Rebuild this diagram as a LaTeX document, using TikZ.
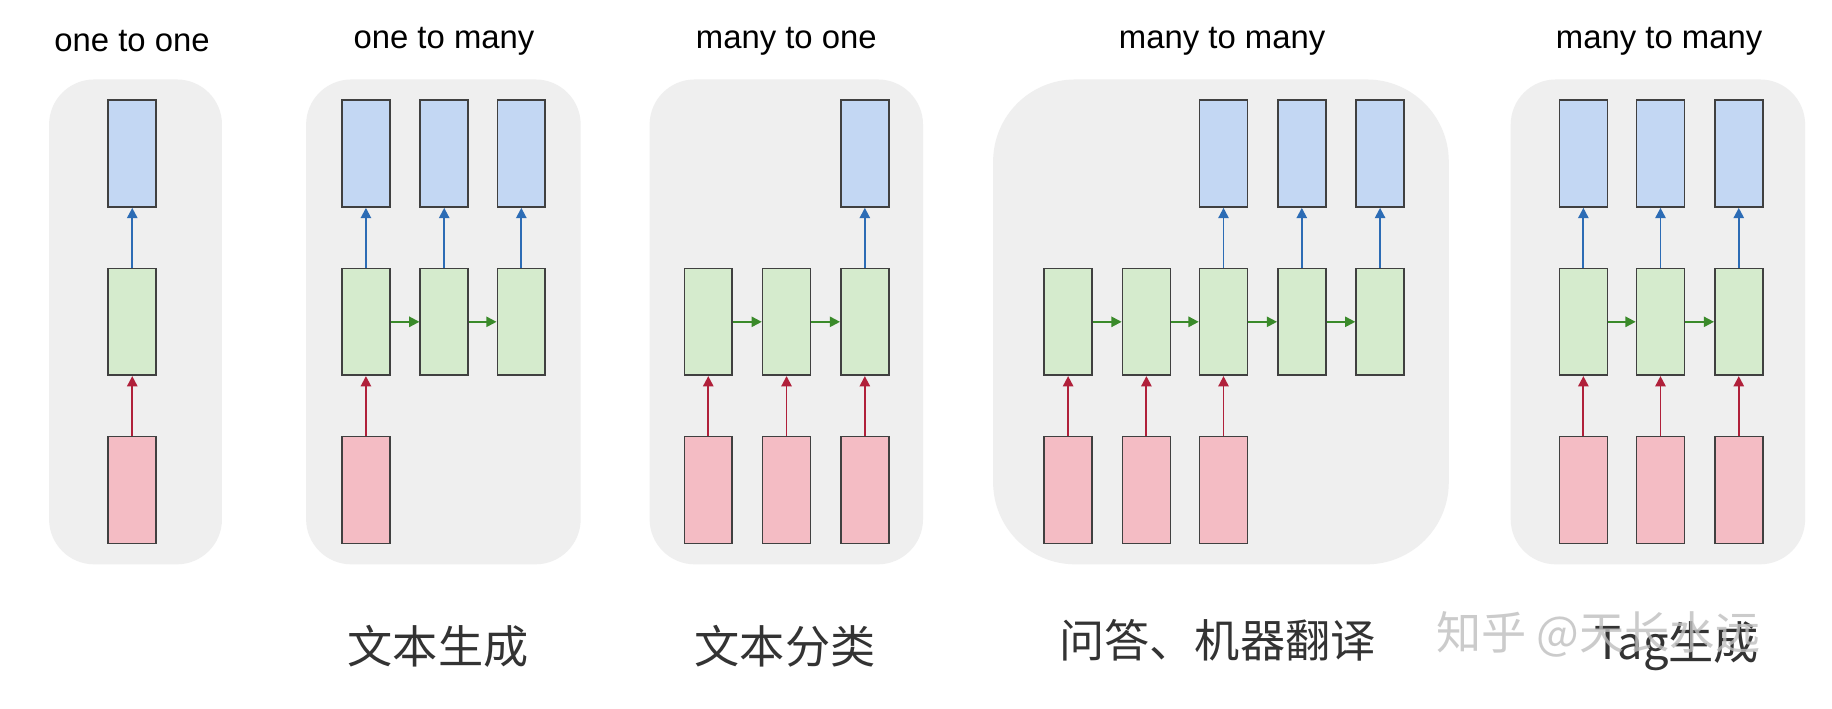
\documentclass[tikz,border=0pt]{standalone}
\usepackage{fontspec}
\setmainfont{Liberation Sans}
\newfontfamily\cjk{Noto Sans CJK SC}
\usetikzlibrary{arrows.meta}
\definecolor{panelc}{HTML}{EFEFEF}
\definecolor{bluef}{HTML}{C3D7F3}
\definecolor{greenf}{HTML}{D5EBCD}
\definecolor{pinkf}{HTML}{F4BCC4}
\definecolor{bluea}{HTML}{2C6CB5}
\definecolor{greena}{HTML}{3A8A2A}
\definecolor{reda}{HTML}{B0203A}
\tikzset{
  panel/.style={fill=panelc,draw=none,rounded corners=22pt},
  cell/.style={draw=black!75,line width=0.8pt,minimum width=0.82cm,minimum height=1.83cm,inner sep=0pt,anchor=north west},
  outc/.style={cell,fill=bluef},
  hidc/.style={cell,fill=greenf},
  inc/.style={cell,fill=pinkf},
  ttl/.style={font=\fontsize{16}{18}\selectfont},
  cn/.style={font=\cjk\fontsize{22}{24}\selectfont,text=black!80},
  ua/.style={-{Triangle[length=5pt,width=5pt]},line width=0.9pt,color=bluea},
  ra/.style={-{Triangle[length=5pt,width=5pt]},line width=0.9pt,color=reda},
  ga/.style={-{Triangle[length=5pt,width=5pt]},line width=0.9pt,color=greena},
}
\begin{document}
\begin{tikzpicture}[x=0.02cm,y=-0.02cm]
\useasboundingbox (0,0) rectangle (1568,606);
\fill[white] (0,0) rectangle (1568,606);
% panels
\draw[panel] (42,68) rectangle (190,483);
\draw[panel] (262,68) rectangle (497,483);
\draw[panel] (556,68) rectangle (790,483);
\draw[panel,rounded corners=40pt] (850,68) rectangle (1240,483);
\draw[panel] (1293,68) rectangle (1545,483);
% titles
\node[ttl] (t1) at (113,35) {one to one};
\node[ttl] (t2) at (380,35) {one to many};
\node[ttl] (t3) at (673,35) {many to one};
\node[ttl] (t4) at (1046,35) {many to many};
\node[ttl] (t5) at (1420,35) {many to many};
% panel 1
\node[outc] (a1o) at (92,85) {};
\node[hidc] (a1h) at (92,229) {};
\node[inc] (a1i) at (92,373) {};
\draw[ua] (a1h.north) -- (a1o.south);
\draw[ra] (a1i.north) -- (a1h.south);
% panel 2
\foreach \i/\x in {1/292,2/359,3/425}{
  \node[outc] (b\i o) at (\x,85) {};
  \node[hidc] (b\i h) at (\x,229) {};
  \draw[ua] (b\i h.north) -- (b\i o.south);
}
\node[inc] (b1i) at (292,373) {};
\draw[ra] (b1i.north) -- (b1h.south);
\draw[ga] (b1h.east) -- (b2h.west);
\draw[ga] (b2h.east) -- (b3h.west);
% panel 3
\foreach \i/\x in {1/585,2/652,3/719}{
  \node[hidc] (c\i h) at (\x,229) {};
  \node[inc] (c\i i) at (\x,373) {};
  \draw[ra] (c\i i.north) -- (c\i h.south);
}
\node[outc] (c3o) at (719,85) {};
\draw[ua] (c3h.north) -- (c3o.south);
\draw[ga] (c1h.east) -- (c2h.west);
\draw[ga] (c2h.east) -- (c3h.west);
% panel 4
\foreach \i/\x in {1/893,2/960,3/1026,4/1093,5/1160}{
  \node[hidc] (d\i h) at (\x,229) {};
}
\foreach \i/\x in {1/893,2/960,3/1026}{
  \node[inc] (d\i i) at (\x,373) {};
  \draw[ra] (d\i i.north) -- (d\i h.south);
}
\foreach \i/\x in {3/1026,4/1093,5/1160}{
  \node[outc] (d\i o) at (\x,85) {};
  \draw[ua] (d\i h.north) -- (d\i o.south);
}
\draw[ga] (d1h.east) -- (d2h.west);
\draw[ga] (d2h.east) -- (d3h.west);
\draw[ga] (d3h.east) -- (d4h.west);
\draw[ga] (d4h.east) -- (d5h.west);
% panel 5
\foreach \i/\x in {1/1334,2/1400,3/1467}{
  \node[outc] (e\i o) at (\x,85) {};
  \node[hidc] (e\i h) at (\x,229) {};
  \node[inc] (e\i i) at (\x,373) {};
  \draw[ua] (e\i h.north) -- (e\i o.south);
  \draw[ra] (e\i i.north) -- (e\i h.south);
}
\draw[ga] (e1h.east) -- (e2h.west);
\draw[ga] (e2h.east) -- (e3h.west);
% captions
\node[cn] (l2) at (375,553) {文本生成};
\node[cn] (l3) at (672,553) {文本分类};
\node[cn] (l4) at (1042,548) {问答、机器翻译};
\node[cn] (l5) at (1435,553) {Tag生成};
\node[font=\cjk\fontsize{22}{24}\selectfont,text=black!25,opacity=0.8] (wm) at (1368,543) {知乎 @天长水远};
\end{tikzpicture}
\end{document}
